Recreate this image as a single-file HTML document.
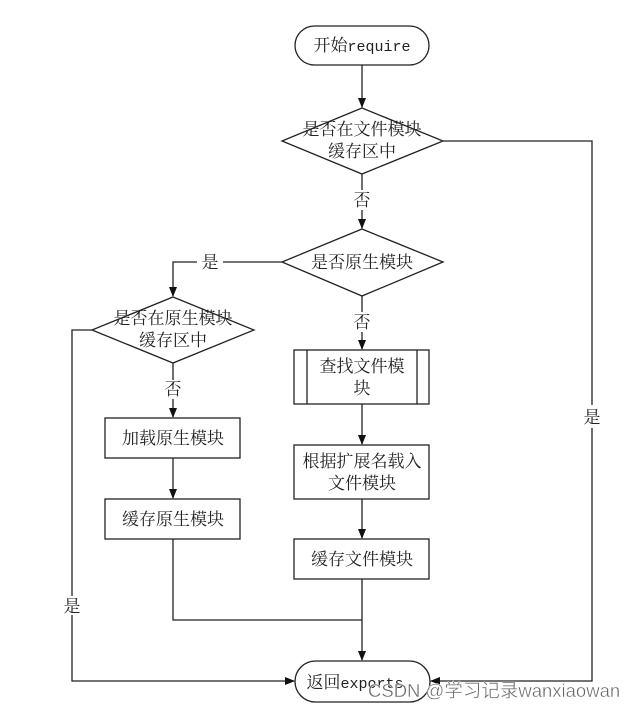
<!DOCTYPE html>
<html><head><meta charset="utf-8"><style>
html,body{margin:0;padding:0;background:#fff}
svg text{font-family:"Liberation Serif","Noto Serif CJK SC","Noto Sans CJK SC",serif;font-size:17px;fill:#222}
.m{font-family:"Liberation Mono",monospace;font-size:15px}
</style></head><body>
<svg width="639" height="708" viewBox="0 0 639 708" xmlns="http://www.w3.org/2000/svg">
<defs><marker id="a" markerWidth="10" markerHeight="10" refX="9" refY="5" orient="auto" markerUnits="userSpaceOnUse"><path d="M0,1 L10,5 L0,9 Z" fill="#111"/></marker></defs>
<g stroke="#222" stroke-width="1.3" fill="none">
<rect x="295" y="26" width="134" height="39" rx="19.5" fill="#fff"/>
<line x1="362" y1="65" x2="362" y2="107" marker-end="url(#a)"/>
<polygon points="362,108 443,141 362,174 282,141" fill="#fff"/>
<line x1="362" y1="174" x2="362" y2="190"/>
<line x1="362" y1="210" x2="362" y2="228" marker-end="url(#a)"/>
<polygon points="362,229 443,262 362,296 282,262" fill="#fff"/>
<polyline points="282,262 223,262"/>
<polyline points="197,262 173,262 173,296" marker-end="url(#a)"/>
<polygon points="173,297 254,330 173,363 92,330" fill="#fff"/>
<line x1="173" y1="363" x2="173" y2="380"/>
<line x1="173" y1="399" x2="173" y2="417" marker-end="url(#a)"/>
<rect x="105" y="418" width="135" height="40"/>
<line x1="173" y1="458" x2="173" y2="498" marker-end="url(#a)"/>
<rect x="105" y="499" width="135" height="40"/>
<polyline points="173,539 173,620 362,620"/>
<polyline points="92,330 72,330 72,596"/>
<polyline points="72,615 72,681 294,681" marker-end="url(#a)"/>
<line x1="362" y1="296" x2="362" y2="312"/>
<line x1="362" y1="332" x2="362" y2="349" marker-end="url(#a)"/>
<rect x="294" y="350" width="135" height="54"/>
<line x1="307" y1="350" x2="307" y2="404"/>
<line x1="417" y1="350" x2="417" y2="404"/>
<line x1="362" y1="404" x2="362" y2="444" marker-end="url(#a)"/>
<rect x="294" y="445" width="135" height="54"/>
<line x1="362" y1="499" x2="362" y2="538" marker-end="url(#a)"/>
<rect x="294" y="539" width="135" height="40"/>
<line x1="362" y1="579" x2="362" y2="660" marker-end="url(#a)"/>
<rect x="295" y="661" width="135" height="41" rx="20.5" fill="#fff"/>
<polyline points="443,141 592,141 592,405"/>
<polyline points="592,428 592,681 431,681" marker-end="url(#a)"/>
</g>
<g text-anchor="middle">
<text x="362" y="51">开始<tspan class="m">require</tspan></text>
<text x="362" y="135">是否在文件模块</text>
<text x="362" y="157">缓存区中</text>
<text x="362" y="206">否</text>
<text x="362" y="268">是否原生模块</text>
<text x="210" y="268">是</text>
<text x="173" y="324">是否在原生模块</text>
<text x="173" y="346">缓存区中</text>
<text x="173" y="395">否</text>
<text x="173" y="444">加载原生模块</text>
<text x="173" y="525">缓存原生模块</text>
<text x="72" y="612">是</text>
<text x="362" y="328">否</text>
<text x="362" y="372">查找文件模</text>
<text x="362" y="394">块</text>
<text x="362" y="467">根据扩展名载入</text>
<text x="362" y="489">文件模块</text>
<text x="362" y="565">缓存文件模块</text>
<text x="592" y="423">是</text>
<text x="355" y="688">返回<tspan class="m">exports</tspan></text>
</g>
<text x="368" y="697" style="font-family:'Liberation Sans','Noto Sans CJK SC',sans-serif;font-size:18.5px;fill:#666;stroke:#fff;stroke-width:0.4">CSDN @学习记录wanxiaowan</text>
</svg>
</body></html>
